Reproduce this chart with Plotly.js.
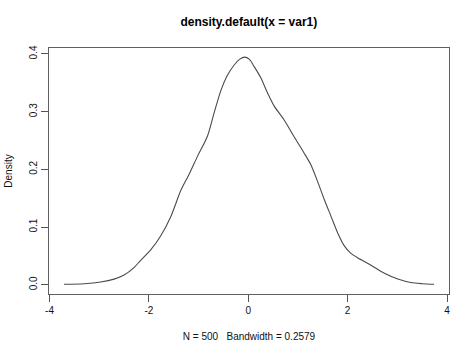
<!DOCTYPE html>
<html>
<head>
<meta charset="utf-8">
<script src="https://cdn.plot.ly/plotly-3.0.1.min.js"></script>
<style>html,body{margin:0;padding:0;background:#fff;}#chart{width:474px;height:355px;}</style>
</head>
<body>
<div id="chart"></div>
<script>
var densityX = [-3.71, -3.30, -2.97, -2.70, -2.50, -2.30, -2.17, -1.96, -1.76, -1.56, -1.36, -1.20, -1.02, -0.82, -0.69, -0.55, -0.42, -0.29, -0.17, -0.07, 0.02, 0.12, 0.25, 0.39, 0.52, 0.72, 0.92, 1.12, 1.26, 1.40, 1.53, 1.66, 1.80, 1.93, 2.05, 2.20, 2.47, 2.74, 3.01, 3.27, 3.50, 3.74];
var densityY = [0.001, 0.002, 0.005, 0.010, 0.017, 0.030, 0.042, 0.061, 0.085, 0.118, 0.163, 0.190, 0.223, 0.258, 0.297, 0.337, 0.363, 0.380, 0.391, 0.3945, 0.391, 0.378, 0.359, 0.332, 0.310, 0.286, 0.257, 0.229, 0.208, 0.178, 0.148, 0.120, 0.090, 0.068, 0.056, 0.047, 0.034, 0.020, 0.010, 0.004, 0.002, 0.001];
var xTicks = [-4, -2, 0, 2, 4];
var yTicks = [0.0, 0.1, 0.2, 0.3, 0.4];
var yTickText = ["0.0", "0.1", "0.2", "0.3", "0.4"];
var mainTitle = "density.default(x = var1)";
var xLabel = "N = 500\u00a0\u00a0\u00a0Bandwidth = 0.2579";
var yLabel = "Density";

var trace = {
  x: densityX, y: densityY, type: "scatter", mode: "lines",
  line: {color: "#4a4a4a", width: 1.1, shape: "spline", smoothing: 0.8},
  hoverinfo: "skip"
};
var font = {family: "Liberation Sans, Arial, sans-serif", size: 10, color: "#111"};
var layout = {
  width: 474, height: 355,
  margin: {l: 49, r: 25, t: 48, b: 61},
  paper_bgcolor: "#fff", plot_bgcolor: "#fff",
  font: font,
  showlegend: false,
  title: {text: "<b>" + mainTitle + "</b>", font: {family: "Liberation Sans, Arial, sans-serif", size: 12, color: "#000"}, x: 0.525, xanchor: "center", y: 0.938, yanchor: "middle"},
  xaxis: {
    range: [-4.01, 4.04], tickvals: xTicks, ticktext: xTicks.map(String),
    ticks: "outside", ticklen: 7, tickwidth: 1, tickcolor: "#555",
    showline: true, mirror: true, linecolor: "#606060", linewidth: 1,
    showgrid: false, zeroline: false,
    tickfont: font,
    title: {text: xLabel, font: font, standoff: 17}
  },
  yaxis: {
    range: [-0.0158, 0.4103], tickvals: yTicks, ticktext: yTickText,
    ticks: "outside", ticklen: 7, tickwidth: 1, tickcolor: "#555",
    showline: true, mirror: true, linecolor: "#606060", linewidth: 1,
    showgrid: false, zeroline: false, tickangle: -90,
    tickfont: font,
    title: {text: yLabel, font: font, standoff: 13}
  }
};
Plotly.newPlot("chart", [trace], layout, {displayModeBar: false, staticPlot: true});
</script>
</body>
</html>
